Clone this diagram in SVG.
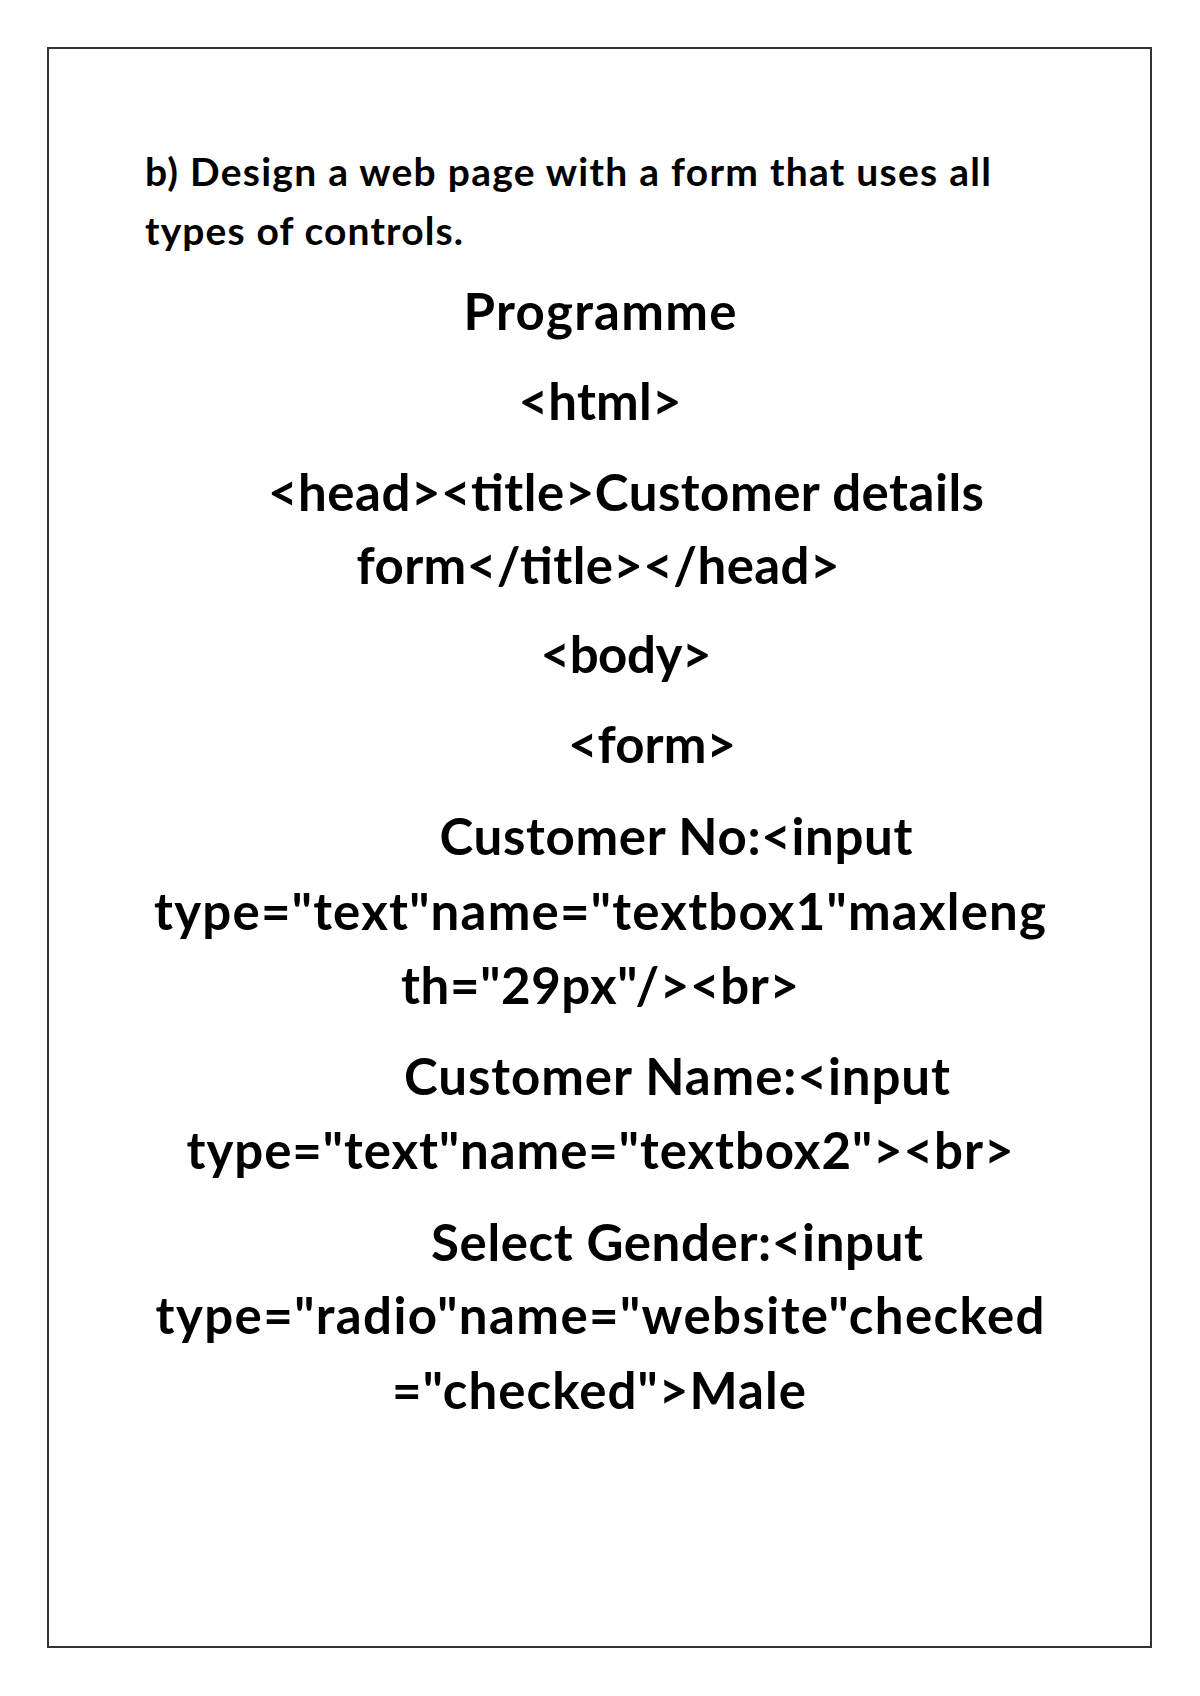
<svg xmlns="http://www.w3.org/2000/svg" width="1200" height="1696" viewBox="0 0 1200 1696">
<style>
.t{font-family:Lato,"Liberation Sans",sans-serif;font-weight:bold;fill:#000}
.s{font-size:39px}
.b{font-size:51px;text-anchor:middle}
</style>
<rect x="0" y="0" width="1200" height="1696" fill="#fff"/>
<rect x="48" y="48" width="1103" height="1599" fill="none" stroke="#333" stroke-width="2"/>
<text class="t s" x="145" y="186" textLength="846">b) Design a web page with a form that uses all</text>
<text class="t s" x="145" y="245" textLength="318">types of controls.</text>
<text class="t b" x="600" y="330" textLength="273">Programme</text>
<text class="t b" x="600" y="420" textLength="163">&lt;html&gt;</text>
<text class="t b" x="626" y="511" textLength="716">&lt;head&gt;&lt;title&gt;Customer details</text>
<text class="t b" x="598" y="584" textLength="483">form&lt;/title&gt;&lt;/head&gt;</text>
<text class="t b" x="626" y="673" textLength="171">&lt;body&gt;</text>
<text class="t b" x="652" y="763" textLength="168">&lt;form&gt;</text>
<text class="t b" x="676" y="855" textLength="473">Customer No:&lt;input</text>
<text class="t b" x="600" y="930" textLength="892">type="text"name="textbox1"maxleng</text>
<text class="t b" x="600" y="1004" textLength="398">th="29px"/&gt;&lt;br&gt;</text>
<text class="t b" x="677" y="1095" textLength="546">Customer Name:&lt;input</text>
<text class="t b" x="600" y="1169" textLength="827">type="text"name="textbox2"&gt;&lt;br&gt;</text>
<text class="t b" x="677" y="1261" textLength="492">Select Gender:&lt;input</text>
<text class="t b" x="600" y="1334" textLength="889">type="radio"name="website"checked</text>
<text class="t b" x="599" y="1409" textLength="414">="checked"&gt;Male</text>
</svg>
